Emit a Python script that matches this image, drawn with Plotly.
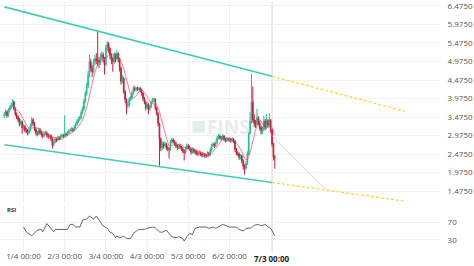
import plotly.graph_objects as go
import pandas as pd

# ---------------- data ----------------
start_date = "2023-12-21"
first_open = 3.50
closes = [
    3.55, 3.62, 3.52, 3.66, 3.72, 3.80, 3.88, 3.70, 3.55, 3.48,
    3.40, 3.30, 3.35, 3.18, 3.22, 3.12, 3.10, 3.05, 3.12, 3.25,
    3.40, 3.30, 3.15, 3.05, 3.02, 3.12, 3.05, 3.00, 2.97, 3.02,
    3.05, 2.98, 2.95, 2.97, 2.90, 2.72, 2.80, 2.88, 2.85, 2.92,
    2.90, 2.95, 2.98, 2.96, 3.02, 3.00, 3.05, 3.10, 3.12, 3.15,
    3.12, 3.20, 3.28, 3.37, 3.42, 3.45, 3.60, 3.69, 3.90, 4.10,
    4.30, 4.60, 4.97, 4.80, 4.70, 4.95, 5.05, 5.02, 5.00, 4.95,
    5.10, 5.15, 5.05, 4.89, 5.35, 5.45, 5.32, 5.15, 5.05, 4.97,
    5.15, 5.05, 5.19, 5.05, 4.80, 4.44, 4.52, 4.17, 3.95, 3.77,
    3.80, 3.96, 3.98, 4.12, 4.25, 4.22, 4.25, 4.23, 4.25, 4.20,
    4.12, 3.98, 3.88, 3.72, 3.82, 3.69, 3.75, 3.88, 3.95, 3.96,
    3.72, 3.58, 3.30, 2.88, 2.64, 2.75, 2.70, 2.75, 2.65, 2.62,
    2.60, 2.80, 2.86, 2.82, 2.76, 2.70, 2.65, 2.70, 2.66, 2.62,
    2.56, 2.51, 2.62, 2.70, 2.66, 2.62, 2.52, 2.60, 2.56, 2.52,
    2.50, 2.48, 2.51, 2.48, 2.43, 2.46, 2.44, 2.43, 2.50, 2.45,
    2.58, 2.70, 2.74, 2.70, 2.78, 2.91, 2.96, 2.92, 2.90, 2.96,
    2.88, 2.85, 2.88, 2.86, 2.88, 2.83, 2.88, 2.83, 2.60, 2.50,
    2.48, 2.38, 2.43, 2.30, 2.15, 2.10, 2.22, 2.48, 3.05, 3.35,
    3.88, 3.40, 3.30, 3.28, 3.45, 3.32, 3.20, 3.10, 3.15, 3.37,
    3.20, 3.38, 3.25, 3.38, 3.12, 2.75, 2.40, 2.38,
]
highs = [
    3.62, 3.68, 3.66, 3.72, 3.78, 3.85, 3.95, 3.92, 3.74, 3.60,
    3.52, 3.45, 3.42, 3.38, 3.28, 3.26, 3.18, 3.15, 3.18, 3.30,
    3.48, 3.44, 3.34, 3.20, 3.10, 3.18, 3.16, 3.10, 3.06, 3.08,
    3.10, 3.09, 3.03, 3.02, 3.00, 2.93, 2.86, 2.93, 2.92, 2.97,
    2.96, 3.00, 3.03, 3.02, 3.52, 3.06, 3.10, 3.15, 3.17, 3.20,
    3.19, 3.25, 3.33, 3.42, 3.48, 3.52, 3.66, 3.76, 3.97, 4.18,
    4.40, 4.72, 5.16, 5.05, 4.88, 5.05, 5.15, 5.20, 5.78, 5.10,
    5.20, 5.25, 5.22, 5.10, 5.42, 5.52, 5.50, 5.36, 5.20, 5.10,
    5.22, 5.20, 5.28, 5.22, 5.08, 4.85, 4.62, 4.56, 4.20, 3.98,
    3.90, 4.02, 4.05, 4.18, 4.32, 4.30, 4.30, 4.29, 4.30, 4.28,
    4.24, 4.15, 4.02, 3.92, 3.88, 3.85, 3.80, 3.92, 3.99, 4.00,
    3.98, 3.75, 3.60, 3.32, 2.92, 2.82, 2.80, 2.82, 2.78, 2.70,
    2.66, 2.86, 2.92, 2.90, 2.85, 2.80, 2.74, 2.76, 2.74, 2.70,
    2.66, 2.60, 2.68, 2.76, 2.74, 2.70, 2.65, 2.66, 2.64, 2.60,
    2.57, 2.55, 2.57, 2.55, 2.52, 2.52, 2.50, 2.48, 2.55, 2.53,
    2.64, 2.76, 2.80, 2.78, 2.84, 2.97, 3.02, 3.00, 2.96, 3.01,
    2.99, 2.92, 2.93, 2.92, 2.93, 2.91, 2.93, 2.91, 2.85, 2.64,
    2.55, 2.52, 2.48, 2.46, 2.33, 2.20, 2.28, 2.55, 3.15, 3.60,
    4.65, 4.30, 3.55, 3.40, 3.70, 3.50, 3.38, 3.25, 3.22, 3.52,
    3.42, 3.55, 3.42, 3.58, 3.42, 3.15, 2.78, 2.45,
]
lows = [
    3.45, 3.50, 3.46, 3.48, 3.62, 3.68, 3.75, 3.65, 3.50, 3.42,
    3.34, 3.22, 3.25, 3.02, 3.12, 3.06, 3.03, 2.98, 3.00, 3.08,
    3.20, 3.24, 3.10, 2.98, 2.95, 2.98, 3.00, 2.94, 2.90, 2.92,
    2.98, 2.92, 2.88, 2.90, 2.82, 2.62, 2.68, 2.76, 2.80, 2.82,
    2.85, 2.86, 2.91, 2.91, 2.93, 2.95, 2.96, 3.01, 3.06, 3.08,
    3.07, 3.09, 3.16, 3.24, 3.32, 3.36, 3.41, 3.55, 3.64, 3.85,
    4.05, 4.25, 4.55, 4.70, 4.55, 4.65, 4.88, 4.90, 4.85, 4.80,
    4.88, 5.00, 4.95, 4.62, 4.85, 5.25, 5.20, 5.02, 4.90, 4.70,
    4.90, 4.95, 5.00, 4.95, 4.70, 4.35, 4.38, 4.10, 3.85, 3.55,
    3.70, 3.75, 3.90, 3.94, 4.08, 4.16, 4.18, 4.18, 4.19, 4.14,
    4.05, 3.92, 3.82, 3.65, 3.68, 3.55, 3.64, 3.72, 3.84, 3.88,
    3.66, 3.52, 3.22, 2.16, 2.55, 2.58, 2.62, 2.65, 2.58, 2.55,
    2.35, 2.56, 2.76, 2.76, 2.70, 2.64, 2.58, 2.61, 2.60, 2.56,
    2.50, 2.30, 2.48, 2.58, 2.60, 2.56, 2.46, 2.48, 2.50, 2.46,
    2.44, 2.42, 2.44, 2.42, 2.38, 2.39, 2.38, 2.37, 2.40, 2.40,
    2.42, 2.54, 2.66, 2.64, 2.67, 2.74, 2.87, 2.86, 2.84, 2.86,
    2.82, 2.79, 2.80, 2.81, 2.81, 2.78, 2.79, 2.77, 2.54, 2.44,
    2.42, 2.32, 2.33, 2.22, 2.05, 1.92, 2.04, 2.18, 2.44, 3.00,
    3.30, 3.32, 3.20, 3.18, 3.22, 3.25, 3.12, 3.00, 3.02, 3.10,
    3.12, 3.15, 3.18, 3.20, 3.05, 2.68, 2.30, 2.08,
]
ma_period = 8

rsi_dates = [
    "2024-01-04", "2024-01-06", "2024-01-10", "2024-01-14", "2024-01-17", "2024-01-18",
    "2024-01-21", "2024-01-23", "2024-01-26", "2024-01-27", "2024-02-05", "2024-02-07",
    "2024-02-09", "2024-02-11", "2024-02-14", "2024-02-16", "2024-02-19", "2024-02-21",
    "2024-02-23", "2024-02-24", "2024-02-26", "2024-02-29", "2024-03-02", "2024-03-05",
    "2024-03-07", "2024-03-09", "2024-03-11", "2024-03-12", "2024-03-14", "2024-03-17",
    "2024-03-19", "2024-03-22", "2024-03-24", "2024-03-27", "2024-03-29", "2024-04-01",
    "2024-04-03", "2024-04-07", "2024-04-09", "2024-04-12", "2024-04-14", "2024-04-17",
    "2024-04-19", "2024-04-21", "2024-04-24", "2024-04-26", "2024-04-29", "2024-04-30",
    "2024-05-02", "2024-05-04", "2024-05-06", "2024-05-08", "2024-05-11", "2024-05-16",
    "2024-05-18", "2024-05-21", "2024-05-23", "2024-05-26", "2024-05-28", "2024-05-31",
    "2024-06-02", "2024-06-07", "2024-06-09", "2024-06-12", "2024-06-14", "2024-06-18",
    "2024-06-20", "2024-06-23", "2024-06-25", "2024-06-28", "2024-06-30", "2024-07-02",
    "2024-07-04", "2024-07-05",
]
rsi_values = [
    59, 48, 39, 52, 53.5, 48, 67, 59, 48, 53.5, 53.5, 65,
    65, 59, 59, 74.5, 77, 84, 80, 77, 84, 70.5, 61.6, 56,
    47, 44.5, 34.5, 39, 34.5, 38, 33, 33, 44.5, 52, 53.5, 53.5,
    56, 59, 57, 48, 47, 52, 44.5, 37, 34.5, 37, 33, 27,
    37, 44.5, 42, 56, 59, 59, 56, 59, 56, 61.6, 65, 61.6,
    59, 59, 53.5, 49.7, 56, 57, 63, 65, 61.6, 65, 59, 56,
    42, 39,
]

# channel (trend lines) anchors
upper_dates = ["2023-12-21", "2024-07-03"]
upper_prices = [6.45, 4.575]
upper_proj_dates = ["2024-07-03", "2024-10-08"]
upper_proj_prices = [4.575, 3.63]
lower_dates = ["2023-12-21", "2024-07-03"]
lower_prices = [2.725, 1.707]
lower_proj_dates = ["2024-07-03", "2024-10-08"]
lower_proj_prices = [1.707, 1.20]
path_dates = ["2024-07-03", "2024-08-11"]
path_prices = [2.97, 1.52]

price_ticks = [1.475, 1.975, 2.475, 2.975, 3.475, 3.975, 4.475, 4.975, 5.475, 5.975, 6.475]
rsi_ticks = [30, 70]
date_ticks = ["2024-01-04", "2024-02-03", "2024-03-04", "2024-04-03", "2024-05-03", "2024-06-02"]
date_labels = ["1/4 00:00", "2/3 00:00", "3/4 00:00", "4/3 00:00", "5/3 00:00", "6/2 00:00"]
cursor_date = "2024-07-03"
cursor_label = "7/3 00:00"

# ---------------- figure ----------------
dates = pd.date_range(start_date, periods=len(closes), freq="D")
opens = [first_open] + closes[:-1]
ma = pd.Series(closes).rolling(ma_period).mean()

UP = "#1fbf98"
DOWN = "#c81e36"
TEAL = "#3fcfb0"
YELLOW = "#f3d640"
GRID = "#f1f1f1"
FONT = "Open Sans"
x_range = ["2023-12-17 21:00", "2024-11-02 07:00"]

fig = go.Figure()

fig.add_trace(go.Candlestick(
    x=dates, open=opens, high=highs, low=lows, close=closes,
    increasing=dict(line=dict(color=UP, width=1), fillcolor=UP),
    decreasing=dict(line=dict(color=DOWN, width=1), fillcolor=DOWN),
    whiskerwidth=0, showlegend=False, hoverinfo="skip",
    xaxis="x", yaxis="y",
))
fig.add_trace(go.Scatter(x=dates, y=ma, mode="lines",
                         line=dict(color="#d9505e", width=0.7),
                         showlegend=False, hoverinfo="skip", xaxis="x", yaxis="y"))

for xs, ys, col, dash, w in [
    (upper_dates, upper_prices, TEAL, "solid", 1.6),
    (lower_dates, lower_prices, TEAL, "solid", 1.6),
    (upper_proj_dates, upper_proj_prices, YELLOW, "3px,2px", 1.2),
    (lower_proj_dates, lower_proj_prices, YELLOW, "3px,2px", 1.2),
    (path_dates, path_prices, "#c8c8c8", "solid", 0.8),
]:
    fig.add_trace(go.Scatter(x=xs, y=ys, mode="lines",
                             line=dict(color=col, width=w, dash=dash),
                             showlegend=False, hoverinfo="skip", xaxis="x", yaxis="y"))

fig.add_trace(go.Scatter(x=rsi_dates, y=rsi_values, mode="lines",
                         line=dict(color="#555555", width=0.9),
                         showlegend=False, hoverinfo="skip", xaxis="x2", yaxis="y2"))

tickfont = dict(family=FONT, size=8, color="#555555")

fig.update_layout(
    width=474, height=266,
    margin=dict(l=0, r=34, t=0, b=13),
    paper_bgcolor="white", plot_bgcolor="white",
    showlegend=False,
    xaxis=dict(domain=[0, 1], anchor="y", range=x_range, type="date",
               tickvals=date_ticks, showticklabels=False, showgrid=True,
               gridcolor=GRID, gridwidth=1, zeroline=False, showline=False,
               rangeslider=dict(visible=False), fixedrange=True),
    yaxis=dict(domain=[0.198, 1], range=[1.144, 6.582], side="right",
               tickvals=price_ticks, ticktext=[f"{v:.4f}" for v in price_ticks],
               tickfont=tickfont, showgrid=True, gridcolor=GRID, zeroline=False,
               ticks="outside", ticklen=5, tickcolor="rgba(0,0,0,0)",
               ticklabeloverflow="allow"),
    xaxis2=dict(domain=[0, 1], anchor="y2", range=x_range, type="date",
                matches="x", tickvals=date_ticks, ticktext=date_labels,
                tickfont=tickfont, showgrid=True, gridcolor=GRID, zeroline=False,
                showline=False, ticks="", ticklabelstandoff=-3,
                ticklabeloverflow="allow"),
    yaxis2=dict(domain=[0, 0.19], range=[0, 108.4], side="right",
                tickvals=rsi_ticks, ticktext=[str(v) for v in rsi_ticks],
                tickfont=tickfont, showgrid=True, gridcolor=GRID, zeroline=False,
                ticks="outside", ticklen=5, tickcolor="rgba(0,0,0,0)"),
)

# crosshair line through both panels
fig.add_shape(type="line", xref="x", yref="paper", x0=cursor_date, x1=cursor_date,
              y0=0, y1=1, line=dict(color="#d4d4d4", width=1), layer="below")

# watermark
fig.add_shape(type="rect", xref="x", yref="y", x0="2024-05-06", x1="2024-05-15",
              y0=3.05, y1=3.37, fillcolor="#dff0eb", line=dict(width=0), layer="below")
fig.add_annotation(x="2024-06-01", y=3.21, xref="x", yref="y", text="<b>FINS</b>",
                   showarrow=False, font=dict(family=FONT, size=19, color="#ebebeb"))

# labels
fig.add_annotation(x=0.012, y=0.17, xref="paper", yref="paper", text="<b>RSI</b>",
                   showarrow=False, xanchor="left", yanchor="middle",
                   font=dict(family=FONT, size=6, color="#333333"))
fig.add_annotation(x=cursor_date, y=0, xref="x", yref="paper", text=f"<b>{cursor_label}</b>",
                   showarrow=False, yanchor="top", yshift=2, bgcolor="white",
                   font=dict(family=FONT, size=8, color="#222222"))

fig.write_html("out.html")
